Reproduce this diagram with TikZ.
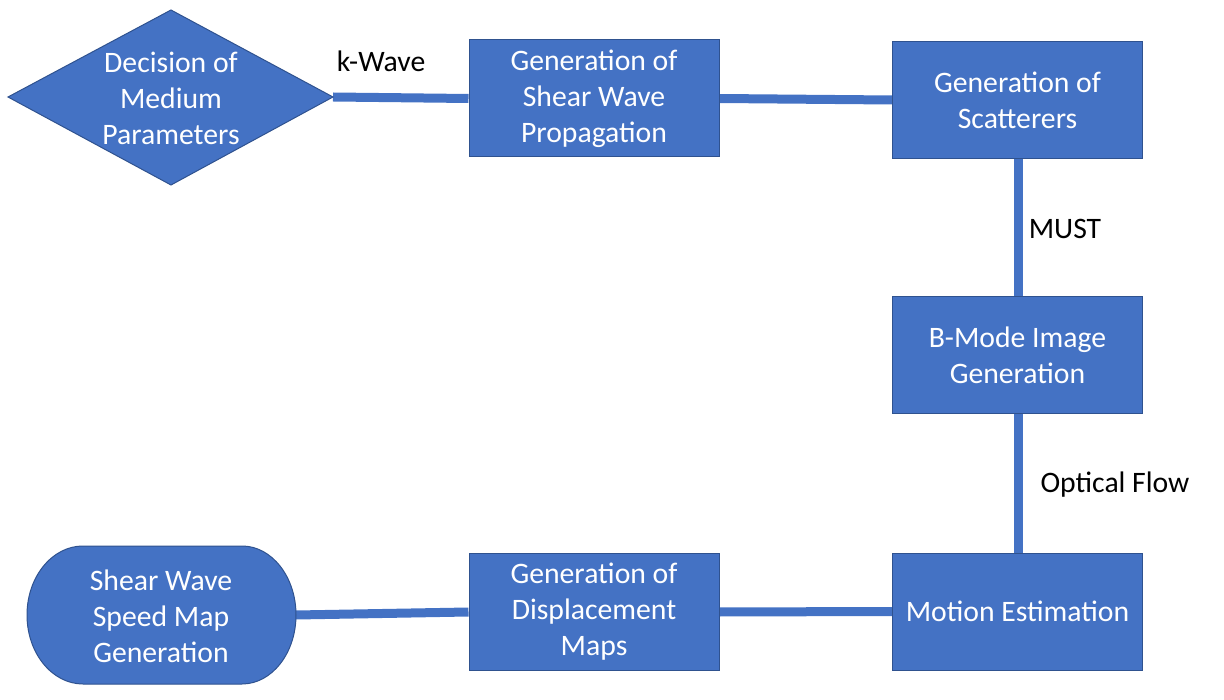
\documentclass[tikz,border=0pt]{standalone}
\usepackage{fontspec}
\setmainfont{Carlito}
\usetikzlibrary{backgrounds}
\definecolor{boxblue}{HTML}{4472C4}
\definecolor{edgeblue}{HTML}{2F528F}
\begin{document}
\begin{tikzpicture}[x=1pt,y=-1pt,
  lbl/.style={font=\fontsize{29.7}{36}\selectfont, align=center, text=white, inner sep=0pt},
  procbox/.style={draw=edgeblue, line width=1pt, fill=boxblue, minimum width=250pt, minimum height=117pt, inner sep=0pt, font=\fontsize{29.7}{36}\selectfont, align=center, text=white},
  shapefill/.style={draw=edgeblue, line width=1pt, fill=boxblue},
  conn/.style={draw=boxblue, line width=9pt},
  tag/.style={font=\fontsize{29.7}{36}\selectfont, text=black, inner sep=0pt}]
\useasboundingbox (0,0) rectangle (1224,700);
% process boxes
\node[procbox] (prop) at (594,98.5) {Generation of\\Shear Wave\\Propagation};
\node[procbox] (scat) at (1017.5,100) {Generation of\\Scatterers};
\node[procbox] (bmode) at (1017.5,355) {B-Mode Image\\Generation};
\node[procbox] (motion) at (1017.5,611.5) {Motion Estimation};
\node[procbox] (disp) at (594,612) {Generation of\\Displacement\\Maps};
% diamond
\coordinate (dl) at (8,97);
\coordinate (dt) at (171,10);
\coordinate (dr) at (333,97);
\coordinate (db) at (171,185);
\draw[shapefill] (dl) -- (dt) -- (dr) -- (db) -- cycle;
\node[lbl] (dec) at (171,98) {Decision of\\Medium\\Parameters};
% terminal
\coordinate (te) at (296,615);
\draw[shapefill]
  (83,546) -- (242,546) arc[start angle=-90, end angle=90, x radius=54, y radius=69]
  -- (83,684) arc[start angle=90, end angle=270, x radius=56, y radius=69] -- cycle;
\node[lbl] (term) at (161,616) {Shear Wave\\Speed Map\\Generation};
% connectors
\begin{scope}[on background layer]
\draw[conn] (dr) -- (prop.west);
\draw[conn] (prop.east) -- (scat.west);
\draw[conn] (scat.south -| 1018,0) -- (bmode.north -| 1018,0);
\draw[conn] (bmode.south -| 1018,0) -- (motion.north -| 1018,0);
\draw[conn] (motion.west) -- (disp.east);
\draw[conn] (disp.west) -- (te);
\end{scope}
% labels
\node[tag] (kw) at (381,61) {k-Wave};
\node[tag] (must) at (1065,229) {MUST};
\node[tag] (of) at (1115,485) {Optical Flow};
\end{tikzpicture}
\end{document}
